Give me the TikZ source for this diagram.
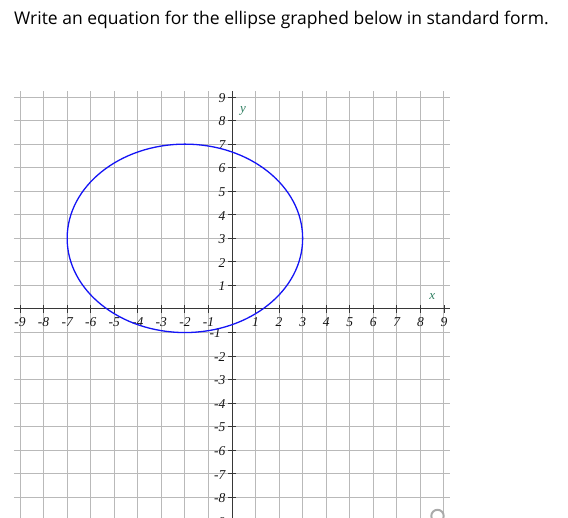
\documentclass[tikz,border=0pt]{standalone}
\usepackage{fontspec}
\setmainfont{Liberation Serif}
\newfontfamily\titlefont{Open Sans}
\definecolor{gridc}{RGB}{185,185,185}
\definecolor{axisc}{RGB}{55,55,55}
\definecolor{labc}{RGB}{20,20,20}
\definecolor{varc}{RGB}{45,125,95}
\definecolor{ellc}{RGB}{20,20,245}
\definecolor{spinc}{RGB}{170,170,170}
\begin{document}
\begin{tikzpicture}[x=1pt,y=1pt,
  gridline/.style={draw=gridc, line width=1pt},
  axisline/.style={draw=axisc, line width=1pt},
  tickmark/.style={draw=axisc, line width=0.9pt},
  ticklab/.style={inner sep=0pt, text=labc, font=\fontsize{13.5}{15}\selectfont\itshape},
  varlab/.style={inner sep=0pt, text=varc, font=\fontsize{13}{15}\selectfont\itshape},
  ellipseline/.style={draw=ellc, line width=1.3pt},
  titletext/.style={anchor=base west, inner sep=0pt, text=black, font=\titlefont\fontsize{17.5}{20}\selectfont}]
\useasboundingbox (0,0) rectangle (568,518);
\node[titletext] (title) at (14,493.5) {Write an equation for the ellipse graphed below in standard form.};
\begin{scope}
\clip (0,0) rectangle (568,518);
\begin{scope}[shift={(232,209)}, x=23.55pt, y=23.55pt]
  % grid
  \foreach \i in {-9,...,9} {
    \draw[gridline] (\i,-9.26) -- (\i,9.26);
    \draw[gridline] (-9.26,\i) -- (9.26,\i);
  }
  % axes
  \coordinate (xa) at (-9.26,0);
  \coordinate (xb) at (9.26,0);
  \coordinate (ya) at (0,-9.26);
  \coordinate (yb) at (0,9.26);
  \draw[axisline] (xa) -- (xb);
  \draw[axisline] (ya) -- (yb);
  % ticks
  \foreach \i in {-9,...,-1,1,2,...,9} {
    \draw[tickmark] ([yshift=-4pt]\i,0) -- ([yshift=4pt]\i,0);
    \draw[tickmark] ([xshift=-4pt]0,\i) -- ([xshift=4pt]0,\i);
  }
  % x tick labels
  \foreach \i in {-9,...,-1,1,2,...,9} {
    \node[ticklab] (xl\i) at ([yshift=-13.5pt]\i,0) {\i};
  }
  % y tick labels
  \foreach \i in {-9,...,-2,1,2,...,9} {
    \node[ticklab, anchor=east] (yl\i) at ([xshift=-6.5pt,yshift=-0.8pt]0,\i) {\i};
  }
  \node[ticklab, anchor=east] (yl-1) at ([xshift=-11pt,yshift=-1pt]0,-1) {-1};
  % variable labels
  \node[varlab] (xname) at (8.5,0.52) {x};
  \node[varlab] (yname) at (0.47,8.4) {y};
  % ellipse
  \draw[ellipseline] (-2,3) ellipse [x radius=5, y radius=4];
\end{scope}
\draw[draw=spinc, line width=2pt] (437.5,2) circle [radius=6.2];
\end{scope}
\end{tikzpicture}
\end{document}
